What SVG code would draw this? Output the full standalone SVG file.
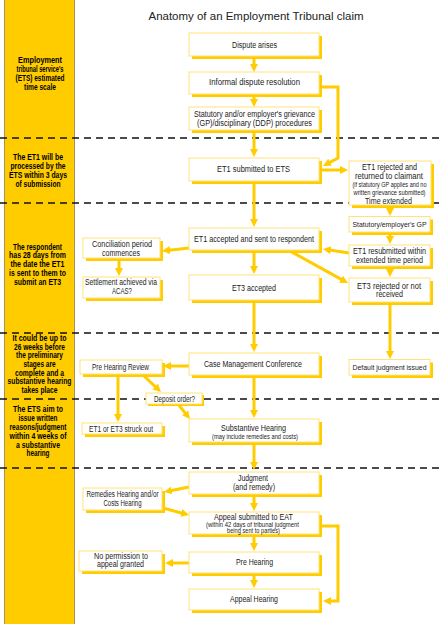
<svg xmlns="http://www.w3.org/2000/svg" width="440" height="624" viewBox="0 0 440 624">
<style>
.t{font-family:"Liberation Sans",Arial,sans-serif;font-size:8.5px;fill:#222;text-anchor:middle}
.s{font-size:6.3px}
.n{font-size:7.8px}
.c{font-family:"Liberation Sans",Arial,sans-serif;font-size:8.5px;font-weight:bold;fill:#000;text-anchor:middle}
.sh{fill:#FFCC00}
.bx{fill:#fff;stroke:#FFE27A;stroke-width:1}
.dash{stroke:#111;stroke-width:1.3;stroke-dasharray:7 5;fill:none}
.cn{stroke:#FFCC00;stroke-width:3;fill:none;marker-end:url(#ah)}
</style>
<defs>
<marker id="ah" markerUnits="userSpaceOnUse" markerWidth="10" markerHeight="10" viewBox="0 0 10 10" refX="3" refY="5" orient="auto"><path d="M0,1 L8,5 L0,9 z" fill="#FFCC00"/></marker>
</defs>
<rect width="440" height="624" fill="#fff"/>
<g id="timescale">
<rect x="4.5" y="-1" width="70" height="626" fill="#FFCC00" stroke="#A8925A" stroke-width="1"/>
</g>
<g id="dividers">
<line class="dash" x1="0" y1="138" x2="440" y2="138"/>
<line class="dash" x1="0" y1="203" x2="440" y2="203"/>
<line class="dash" x1="0" y1="333" x2="440" y2="333"/>
<line class="dash" x1="0" y1="399" x2="440" y2="399"/>
<line class="dash" x1="0" y1="468" x2="440" y2="468"/>
</g>
<g id="timescale-text">
<text class="c" x="40" y="63" textLength="44" lengthAdjust="spacingAndGlyphs">Employment</text>
<text class="c" x="40" y="72" textLength="47" lengthAdjust="spacingAndGlyphs">tribunal service's</text>
<text class="c" x="40" y="81" textLength="49" lengthAdjust="spacingAndGlyphs">(ETS) estimated</text>
<text class="c" x="40" y="90" textLength="32" lengthAdjust="spacingAndGlyphs">time scale</text>
<text class="c" x="38" y="159.5" textLength="50" lengthAdjust="spacingAndGlyphs">The ET1 will be</text>
<text class="c" x="38" y="168.5" textLength="55" lengthAdjust="spacingAndGlyphs">processed by the</text>
<text class="c" x="38" y="177.5" textLength="58" lengthAdjust="spacingAndGlyphs">ETS within 3 days</text>
<text class="c" x="38" y="186.5" textLength="45" lengthAdjust="spacingAndGlyphs">of submission</text>
<text class="c" x="37.5" y="249.5" textLength="49" lengthAdjust="spacingAndGlyphs">The respondent</text>
<text class="c" x="37.5" y="258" textLength="57" lengthAdjust="spacingAndGlyphs">has 28 days from</text>
<text class="c" x="37.5" y="267" textLength="54" lengthAdjust="spacingAndGlyphs">the date the ET1</text>
<text class="c" x="37.5" y="276" textLength="57" lengthAdjust="spacingAndGlyphs">is sent to them to</text>
<text class="c" x="37.5" y="285" textLength="47" lengthAdjust="spacingAndGlyphs">submit an ET3</text>
<text class="c" x="39.5" y="341" textLength="54" lengthAdjust="spacingAndGlyphs">It could be up to</text>
<text class="c" x="39.5" y="349.5" textLength="51" lengthAdjust="spacingAndGlyphs">26 weeks before</text>
<text class="c" x="39.5" y="358" textLength="47" lengthAdjust="spacingAndGlyphs">the preliminary</text>
<text class="c" x="39.5" y="366.5" textLength="32" lengthAdjust="spacingAndGlyphs">stages are</text>
<text class="c" x="39.5" y="375.5" textLength="49" lengthAdjust="spacingAndGlyphs">complete and a</text>
<text class="c" x="39.5" y="384" textLength="64" lengthAdjust="spacingAndGlyphs">substantive hearing</text>
<text class="c" x="39.5" y="393" textLength="36" lengthAdjust="spacingAndGlyphs">takes place</text>
<text class="c" x="38" y="412" textLength="50" lengthAdjust="spacingAndGlyphs">The ETS aim to</text>
<text class="c" x="38" y="421" textLength="39" lengthAdjust="spacingAndGlyphs">issue written</text>
<text class="c" x="38" y="429.5" textLength="57" lengthAdjust="spacingAndGlyphs">reasons/judgment</text>
<text class="c" x="38" y="438.5" textLength="57" lengthAdjust="spacingAndGlyphs">within 4 weeks of</text>
<text class="c" x="38" y="447.5" textLength="44" lengthAdjust="spacingAndGlyphs">a substantive</text>
<text class="c" x="38" y="456" textLength="23" lengthAdjust="spacingAndGlyphs">hearing</text>
</g>
<g id="title">
<text x="256" y="19.5" font-family="Liberation Sans, Arial, sans-serif" font-size="11.5" fill="#222" text-anchor="middle" textLength="215" lengthAdjust="spacingAndGlyphs">Anatomy of an Employment Tribunal claim</text>
</g>
<g id="connectors">
<path class="cn" d="M254,57 V67"/>
<path class="cn" d="M254,94 V102"/>
<path class="cn" d="M254,130 V152"/>
<path class="cn" d="M320,87 H338 V158 L327.4,163.6"/>
<path class="cn" d="M321,170 H343"/>
<path class="cn" d="M254,181 V222"/>
<path class="cn" d="M390,207 V211"/>
<path class="cn" d="M390,232 V239"/>
<path class="cn" d="M349,253 L327.9,249.8"/>
<path class="cn" d="M189,248 L167,250.4"/>
<path class="cn" d="M119,259 V271"/>
<path class="cn" d="M254,250 V269"/>
<path class="cn" d="M290,251 L343.6,280.6"/>
<path class="cn" d="M390,266 V272"/>
<path class="cn" d="M254,300 V347"/>
<path class="cn" d="M390,302 V354"/>
<path class="cn" d="M189,366 H168"/>
<path class="cn" d="M118,374 V417"/>
<path class="cn" d="M144,376 L157.4,388.6"/>
<path class="cn" d="M178,404 L186.9,415.1"/>
<path class="cn" d="M254,375 V413"/>
<path class="cn" d="M254,442 V465"/>
<path class="cn" d="M189,487 L168.9,491"/>
<path class="cn" d="M163,508 L184.2,513.7"/>
<path class="cn" d="M254,494 V506"/>
<path class="cn" d="M320,526 H338 V601 H328"/>
<path class="cn" d="M254,534 V546"/>
<path class="cn" d="M189,563 H170"/>
<path class="cn" d="M254,573 V583"/>
</g>
<g id="dispute"><rect class="sh" x="192" y="36" width="130" height="23"/><rect class="bx" x="189" y="33" width="130" height="23"/>
<text class="t" x="254.5" y="47.5" textLength="45" lengthAdjust="spacingAndGlyphs">Dispute arises</text></g>
<g id="informal"><rect class="sh" x="192" y="75" width="130" height="22"/><rect class="bx" x="189" y="72" width="130" height="22"/>
<text class="t" x="254.5" y="85" textLength="91" lengthAdjust="spacingAndGlyphs">Informal dispute resolution</text></g>
<g id="statutory"><rect class="sh" x="192" y="110" width="130" height="23"/><rect class="bx" x="189" y="107" width="130" height="23"/>
<text class="t" x="254.5" y="117" textLength="121" lengthAdjust="spacingAndGlyphs">Statutory and/or employer's grievance</text>
<text class="t" x="254.5" y="126" textLength="115" lengthAdjust="spacingAndGlyphs">(GP)/disciplinary (DDP) procedures</text></g>
<g id="et1-submitted"><rect class="sh" x="192" y="161" width="130" height="23"/><rect class="bx" x="189" y="158" width="130" height="23"/>
<text class="t" x="253.5" y="172" textLength="73" lengthAdjust="spacingAndGlyphs">ET1 submitted to ETS</text></g>
<g id="et1-rejected"><rect class="sh" x="352" y="164" width="82" height="44"/><rect class="bx" x="349" y="161" width="82" height="44"/>
<text class="t" x="389.5" y="170" textLength="55" lengthAdjust="spacingAndGlyphs">ET1 rejected and</text>
<text class="t" x="389" y="178.5" textLength="68" lengthAdjust="spacingAndGlyphs">returned to claimant</text>
<text class="t s" x="389.5" y="187" textLength="74" lengthAdjust="spacingAndGlyphs">(if statutory GP applies and no</text>
<text class="t s" x="389.5" y="194.5" textLength="72" lengthAdjust="spacingAndGlyphs">written grievance submitted)</text>
<text class="t" x="388.5" y="203.5" textLength="47" lengthAdjust="spacingAndGlyphs">Time extended</text></g>
<g id="statutory-gp"><rect class="sh" x="352" y="219.5" width="81" height="15.5"/><rect class="bx" x="349" y="216.5" width="81" height="15.5"/>
<text class="t n" x="389.5" y="227.3" textLength="74" lengthAdjust="spacingAndGlyphs">Statutory/employer's GP</text></g>
<g id="et1-accepted"><rect class="sh" x="192" y="231" width="130" height="22"/><rect class="bx" x="189" y="228" width="130" height="22"/>
<text class="t" x="254" y="242" textLength="120" lengthAdjust="spacingAndGlyphs">ET1 accepted and sent to respondent</text></g>
<g id="conciliation"><rect class="sh" x="86" y="241" width="77" height="20"/><rect class="bx" x="83" y="238" width="77" height="20"/>
<text class="t" x="122" y="247" textLength="60" lengthAdjust="spacingAndGlyphs">Conciliation period</text>
<text class="t" x="121" y="256" textLength="38" lengthAdjust="spacingAndGlyphs">commences</text></g>
<g id="settlement"><rect class="sh" x="86" y="280" width="77" height="21"/><rect class="bx" x="83" y="277" width="77" height="21"/>
<text class="t" x="121" y="285" textLength="72" lengthAdjust="spacingAndGlyphs">Settlement achieved via</text>
<text class="t" x="122" y="294" textLength="20" lengthAdjust="spacingAndGlyphs">ACAS?</text></g>
<g id="et3-accepted"><rect class="sh" x="192" y="278" width="130" height="25"/><rect class="bx" x="189" y="275" width="130" height="25"/>
<text class="t" x="254" y="291" textLength="44" lengthAdjust="spacingAndGlyphs">ET3 accepted</text></g>
<g id="et1-resubmitted"><rect class="sh" x="352" y="248" width="81" height="21"/><rect class="bx" x="349" y="245" width="81" height="21"/>
<text class="t" x="389.5" y="254" textLength="73" lengthAdjust="spacingAndGlyphs">ET1 resubmitted within</text>
<text class="t" x="389.5" y="263" textLength="67" lengthAdjust="spacingAndGlyphs">extended time period</text></g>
<g id="et3-rejected"><rect class="sh" x="352" y="281" width="81" height="24"/><rect class="bx" x="349" y="278" width="81" height="24"/>
<text class="t" x="389" y="288.5" textLength="64" lengthAdjust="spacingAndGlyphs">ET3 rejected or not</text>
<text class="t" x="389.5" y="297" textLength="27" lengthAdjust="spacingAndGlyphs">received</text></g>
<g id="case-management"><rect class="sh" x="192" y="356" width="130" height="22"/><rect class="bx" x="189" y="353" width="130" height="22"/>
<text class="t" x="253" y="367" textLength="98" lengthAdjust="spacingAndGlyphs">Case Management Conference</text></g>
<g id="default-judgment"><rect class="sh" x="352" y="362.5" width="81" height="15.5"/><rect class="bx" x="349" y="359.5" width="81" height="15.5"/>
<text class="t n" x="389.5" y="370" textLength="74" lengthAdjust="spacingAndGlyphs">Default judgment issued</text></g>
<g id="pre-hearing-review"><rect class="sh" x="83" y="363" width="82" height="14"/><rect class="bx" x="80" y="360" width="82" height="14"/>
<text class="t" x="120.5" y="370" textLength="57" lengthAdjust="spacingAndGlyphs">Pre Hearing Review</text></g>
<g id="deposit-order"><rect class="sh" x="148" y="395" width="56" height="11"/><rect class="bx" x="146" y="393" width="56" height="11"/>
<text class="t" x="174.5" y="402" textLength="41" lengthAdjust="spacingAndGlyphs">Deposit order?</text></g>
<g id="struck-out"><rect class="sh" x="85" y="426" width="80" height="11"/><rect class="bx" x="82" y="423" width="80" height="11"/>
<text class="t" x="121" y="432" textLength="64" lengthAdjust="spacingAndGlyphs">ET1 or ET3 struck out</text></g>
<g id="substantive-hearing"><rect class="sh" x="192" y="422" width="130" height="23"/><rect class="bx" x="189" y="419" width="130" height="23"/>
<text class="t" x="253.5" y="431" textLength="65" lengthAdjust="spacingAndGlyphs">Substantive Hearing</text>
<text class="t s" x="255" y="438.5" textLength="86" lengthAdjust="spacingAndGlyphs">(may include remedies and costs)</text></g>
<g id="judgment"><rect class="sh" x="192" y="475" width="130" height="22"/><rect class="bx" x="189" y="472" width="130" height="22"/>
<text class="t" x="253" y="481" textLength="30" lengthAdjust="spacingAndGlyphs">Judgment</text>
<text class="t" x="254" y="490" textLength="42" lengthAdjust="spacingAndGlyphs">(and remedy)</text></g>
<g id="remedies-hearing"><rect class="sh" x="86" y="491" width="79" height="22"/><rect class="bx" x="83" y="488" width="79" height="22"/>
<text class="t" x="122.5" y="497" textLength="72" lengthAdjust="spacingAndGlyphs">Remedies Hearing and/or</text>
<text class="t" x="122.5" y="505.5" textLength="38" lengthAdjust="spacingAndGlyphs">Costs Hearing</text></g>
<g id="appeal-submitted"><rect class="sh" x="192" y="515" width="130" height="22"/><rect class="bx" x="189" y="512" width="130" height="22"/>
<text class="t" x="253.5" y="519.5" textLength="79" lengthAdjust="spacingAndGlyphs">Appeal submitted to EAT</text>
<text class="t s" x="252.5" y="526.5" textLength="93" lengthAdjust="spacingAndGlyphs">(within 42 days of tribunal judgment</text>
<text class="t s" x="253.5" y="533" textLength="53" lengthAdjust="spacingAndGlyphs">being sent to parties)</text></g>
<g id="pre-hearing"><rect class="sh" x="192" y="555" width="130" height="21"/><rect class="bx" x="189" y="552" width="130" height="21"/>
<text class="t" x="254.5" y="564.5" textLength="37" lengthAdjust="spacingAndGlyphs">Pre Hearing</text></g>
<g id="no-permission"><rect class="sh" x="82" y="554" width="83" height="20"/><rect class="bx" x="79" y="551" width="83" height="20"/>
<text class="t" x="121" y="558.5" textLength="54" lengthAdjust="spacingAndGlyphs">No permission to</text>
<text class="t" x="120.5" y="567" textLength="47" lengthAdjust="spacingAndGlyphs">appeal granted</text></g>
<g id="appeal-hearing"><rect class="sh" x="192" y="592" width="130" height="21"/><rect class="bx" x="189" y="589" width="130" height="21"/>
<text class="t" x="254" y="602" textLength="48" lengthAdjust="spacingAndGlyphs">Appeal Hearing</text></g>
</svg>
